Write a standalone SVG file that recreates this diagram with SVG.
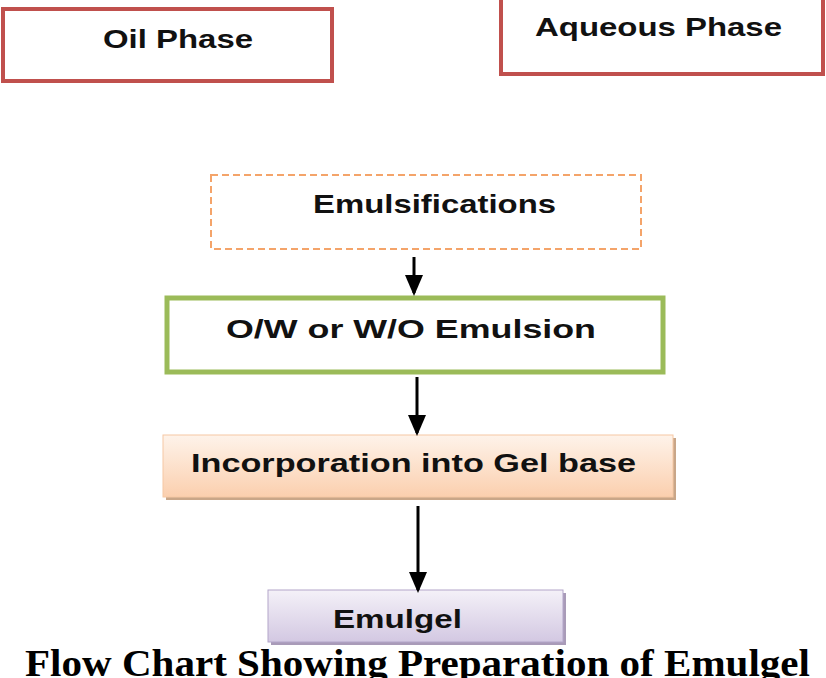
<svg xmlns="http://www.w3.org/2000/svg" width="826" height="678" viewBox="0 0 826 678">
<defs>
<linearGradient id="peach" x1="0" y1="0" x2="0" y2="1">
<stop offset="0" stop-color="#fef3ea"/><stop offset="1" stop-color="#fbcfae"/>
</linearGradient>
<linearGradient id="lav" x1="0" y1="0" x2="0" y2="1">
<stop offset="0" stop-color="#f4f1f8"/><stop offset="1" stop-color="#d3c8e2"/>
</linearGradient>
<marker id="ah" markerWidth="7" markerHeight="6" refX="6" refY="3" orient="auto" markerUnits="strokeWidth">
<path d="M0,0 L7,3 L0,6 z" fill="#000"/>
</marker>
</defs>
<style>
.lbl{font-family:"Liberation Sans",Arial,sans-serif;font-weight:bold;fill:#111;}
.red{fill:#fff;stroke:#c0504d;stroke-width:4;}
.conn{stroke:#000;stroke-width:3;fill:none;marker-end:url(#ah);}
</style>
<rect width="826" height="678" fill="#fff"/>
<g id="oil">
<rect class="red" x="3" y="9" width="329" height="72"/>
<text class="lbl" x="103" y="48" font-size="26" textLength="150" lengthAdjust="spacingAndGlyphs">Oil Phase</text>
</g>
<g id="aqueous">
<rect class="red" x="501" y="-2" width="322" height="76"/>
<text class="lbl" x="535" y="36" font-size="26" textLength="247" lengthAdjust="spacingAndGlyphs">Aqueous Phase</text>
</g>
<g id="emulsifications">
<rect x="211" y="175" width="430" height="74" fill="#fff" stroke="#f4a46a" stroke-width="2" stroke-dasharray="7,4"/>
<text class="lbl" x="313" y="213" font-size="26" textLength="243" lengthAdjust="spacingAndGlyphs">Emulsifications</text>
</g>
<g id="emulsion">
<rect x="167" y="298" width="496" height="74" fill="#fff" stroke="#9bbb59" stroke-width="5"/>
<text class="lbl" x="226" y="338" font-size="25" textLength="370" lengthAdjust="spacingAndGlyphs">O/W or W/O Emulsion</text>
</g>
<g id="incorporation">
<rect x="166" y="438" width="510" height="62" fill="#c9a688"/>
<rect x="163" y="435" width="510" height="62" fill="url(#peach)" stroke="#f6c8a4" stroke-width="1"/>
<text class="lbl" x="191" y="472" font-size="25" textLength="445" lengthAdjust="spacingAndGlyphs">Incorporation into Gel base</text>
</g>
<g id="emulgel">
<rect x="271" y="593" width="295" height="52" fill="#a99bb8"/>
<rect x="268" y="590" width="295" height="52" fill="url(#lav)" stroke="#b3a6c9" stroke-width="1"/>
<text class="lbl" x="333" y="628" font-size="25" textLength="129" lengthAdjust="spacingAndGlyphs">Emulgel</text>
</g>
<g id="connectors">
<line class="conn" x1="414" y1="257" x2="414" y2="293"/>
<line class="conn" x1="417" y1="377" x2="417" y2="433"/>
<line class="conn" x1="418" y1="506" x2="418" y2="590"/>
</g>
<text x="25" y="676" font-family="Liberation Serif,'Times New Roman',serif" font-weight="bold" font-size="38" fill="#000" textLength="785" lengthAdjust="spacingAndGlyphs">Flow Chart Showing Preparation of Emulgel</text>
</svg>
